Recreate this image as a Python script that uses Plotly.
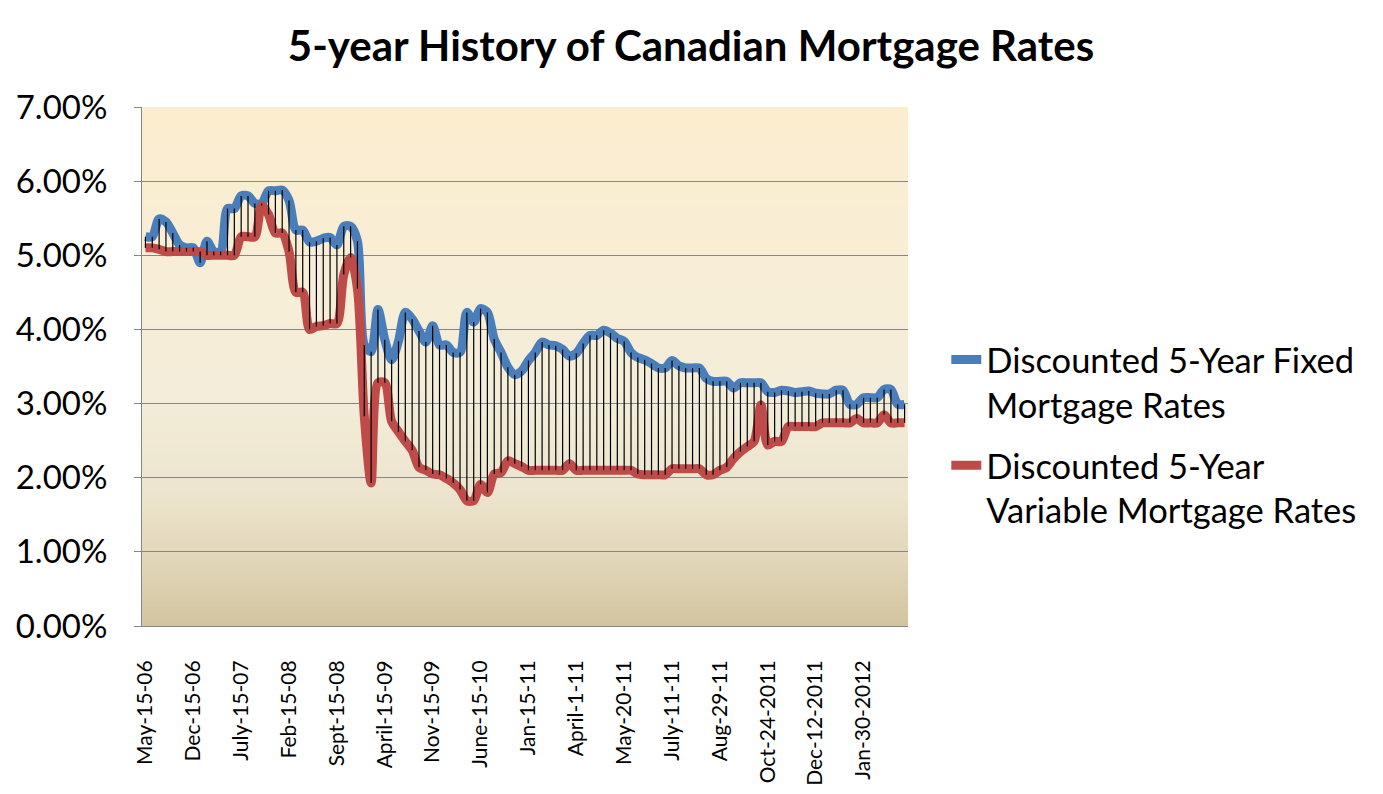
import plotly.graph_objects as go

# ---------------- data ----------------
tick_labels = ["May-15-06", "Dec-15-06", "July-15-07", "Feb-15-08", "Sept-15-08",
               "April-15-09", "Nov-15-09", "June-15-10", "Jan-15-11", "April-1-11",
               "May-20-11", "July-11-11", "Aug-29-11", "Oct-24-2011", "Dec-12-2011",
               "Jan-30-2012"]
tick_step = 7  # one label every 7 categories

fixed_rates = [
    5.25, 5.25, 5.49, 5.45, 5.30, 5.14, 5.10, 5.10, 4.90, 5.19,
    5.05, 5.05, 5.63, 5.63, 5.80, 5.80, 5.70, 5.70, 5.87, 5.87,
    5.88, 5.74, 5.34, 5.34, 5.18, 5.19, 5.23, 5.24, 5.14, 5.39,
    5.39, 5.19, 3.79, 3.70, 4.27, 3.86, 3.59, 3.84, 4.23, 4.14,
    3.98, 3.83, 4.05, 3.79, 3.79, 3.69, 3.69, 4.23, 4.10, 4.28,
    4.23, 3.87, 3.69, 3.49, 3.39, 3.44, 3.58, 3.69, 3.83, 3.79,
    3.78, 3.73, 3.64, 3.68, 3.81, 3.92, 3.92, 3.99, 3.95, 3.88,
    3.84, 3.69, 3.62, 3.59, 3.54, 3.48, 3.48, 3.58, 3.51, 3.48,
    3.48, 3.48, 3.34, 3.30, 3.30, 3.30, 3.21, 3.28, 3.28, 3.28,
    3.28, 3.16, 3.15, 3.18, 3.17, 3.15, 3.16, 3.17, 3.14, 3.13,
    3.13, 3.18, 3.18, 2.99, 2.99, 3.08, 3.08, 3.08, 3.19, 3.19,
    2.99, 2.99,
]

variable_rates = [
    5.10, 5.10, 5.08, 5.05, 5.05, 5.05, 5.05, 5.05, 5.05, 5.00,
    5.00, 5.00, 5.00, 5.00, 5.25, 5.25, 5.25, 5.67, 5.55, 5.30,
    5.30, 5.05, 4.50, 4.50, 4.00, 4.04, 4.05, 4.08, 4.08, 4.74,
    4.97, 4.55, 2.83, 1.93, 3.28, 3.28, 2.76, 2.62, 2.49, 2.37,
    2.14, 2.10, 2.05, 2.04, 1.99, 1.93, 1.84, 1.69, 1.69, 1.91,
    1.80, 2.05, 2.07, 2.23, 2.19, 2.15, 2.10, 2.10, 2.10, 2.10,
    2.10, 2.10, 2.19, 2.10, 2.10, 2.10, 2.10, 2.10, 2.10, 2.10,
    2.10, 2.10, 2.05, 2.04, 2.04, 2.04, 2.04, 2.12, 2.12, 2.12,
    2.12, 2.12, 2.04, 2.04, 2.10, 2.14, 2.26, 2.35, 2.42, 2.49,
    2.98, 2.44, 2.49, 2.49, 2.69, 2.69, 2.69, 2.69, 2.69, 2.74,
    2.74, 2.74, 2.74, 2.74, 2.80, 2.74, 2.74, 2.74, 2.85, 2.74,
    2.74, 2.74,
]

series_names = ["Discounted 5-Year Fixed<br>Mortgage Rates",
                "Discounted 5-Year<br>Variable Mortgage Rates"]
y_ticks = [0, 1, 2, 3, 4, 5, 6, 7]
y_tick_labels = ["0.00%", "1.00%", "2.00%", "3.00%", "4.00%", "5.00%", "6.00%", "7.00%"]

# ---------------- figure ----------------
FONT = "Lato"
x = list(range(len(fixed_rates)))
tick_vals = [i * tick_step for i in range(len(tick_labels))]

fig = go.Figure()

fig.add_trace(go.Scatter(
    x=x, y=fixed_rates, mode="lines", name=series_names[0], legendgroup="fixed",
    line=dict(color="#4A7EBB", width=9, shape="spline", smoothing=0.8),
))
fig.add_trace(go.Scatter(
    x=x, y=variable_rates, mode="lines", name=series_names[1], legendgroup="variable",
    line=dict(color="#BE4B48", width=9, shape="spline", smoothing=0.8),
))

# high-low lines
hl_x, hl_y = [], []
for xi, a, b in zip(x, fixed_rates, variable_rates):
    hl_x += [xi, xi, None]
    hl_y += [a, b, None]
fig.add_trace(go.Scatter(
    x=hl_x, y=hl_y, mode="lines", showlegend=False, hoverinfo="skip",
    line=dict(color="black", width=1.2),
))

# plot-area gradient background (bottom -> top)
stops = [
    (0.00, (211, 196, 160)),
    (0.10, (223, 211, 180)),
    (0.25, (236, 228, 205)),
    (0.45, (243, 237, 217)),
    (0.70, (248, 238, 213)),
    (1.00, (252, 237, 207)),
]


def grad_color(t):
    for (t0, c0), (t1, c1) in zip(stops[:-1], stops[1:]):
        if t0 <= t <= t1:
            f = (t - t0) / (t1 - t0)
            return "rgb(%d,%d,%d)" % tuple(round(c0[k] + (c1[k] - c0[k]) * f) for k in range(3))
    return "rgb(%d,%d,%d)" % stops[-1][1]


n_bands = 130
shapes = []
for i in range(n_bands):
    y0 = i / n_bands
    y1 = (i + 1) / n_bands + 0.002
    shapes.append(dict(type="rect", xref="x domain", yref="y domain",
                       x0=0, x1=1, y0=y0, y1=min(y1, 1), layer="below",
                       line=dict(width=0), fillcolor=grad_color((i + 0.5) / n_bands)))

# page body has an 8px default margin -> compensate in the figure margins
fig.update_layout(
    width=1383, height=794,
    margin=dict(l=134, r=483, t=99, b=176, autoexpand=False),
    paper_bgcolor="white", plot_bgcolor="white",
    shapes=shapes,
    font=dict(family=FONT, color="black"),
    title=dict(text="<b>5-year History of Canadian Mortgage Rates</b>",
               x=(691 - 8) / 1383, xref="container", xanchor="center",
               y=1 - 38 / 794, yref="container", yanchor="middle",
               font=dict(family=FONT, size=42, color="black")),
    legend=dict(x=1.05, xanchor="left", y=0.368, yanchor="middle",
                font=dict(family=FONT, size=34.5, color="black"),
                valign="top", bgcolor="rgba(0,0,0,0)",
                traceorder="grouped", tracegroupgap=13),
    showlegend=True,
)

fig.update_xaxes(
    range=[-0.5, len(x) - 0.5], tickmode="array", tickvals=tick_vals, ticktext=tick_labels,
    tickangle=-90, tickfont=dict(family=FONT, size=21, color="black"),
    showgrid=False, zeroline=False, showline=True, linecolor="#868686", linewidth=1,
    ticks="", ticklabelstandoff=25, automargin=False,
)
fig.update_yaxes(
    range=[0, 7], tickmode="array", tickvals=y_ticks, ticktext=y_tick_labels,
    tickfont=dict(family=FONT, size=33, color="black"),
    showgrid=True, gridcolor="#868686", gridwidth=1, zeroline=False,
    showline=True, linecolor="#868686", linewidth=1,
    ticks="outside", ticklen=7, tickcolor="#868686", ticklabelstandoff=20,
    automargin=False,
)

fig.write_html("out.html")
